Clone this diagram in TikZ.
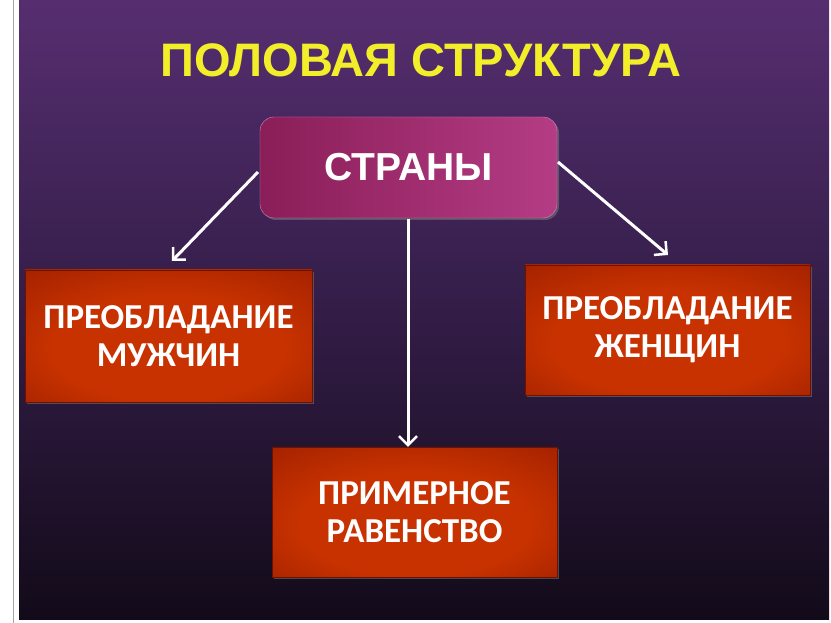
\documentclass[tikz,border=0pt]{standalone}
\usepackage{fontspec}
\setmainfont{Liberation Sans}
\newfontfamily\boxfont{Carlito}
\usetikzlibrary{arrows.meta,shadows}
\definecolor{bgtop}{HTML}{7A3E98}
\definecolor{bgmid}{HTML}{3A2150}
\definecolor{redc}{HTML}{C83200}
\definecolor{rede}{HTML}{8A1600}
\definecolor{magl}{HTML}{8A1E58}
\definecolor{magr}{HTML}{B43C84}
\definecolor{titley}{HTML}{F2EE2A}
\pgfdeclareverticalshading{bgshade}{100bp}{color(0bp)=(black); color(8bp)=(black); color(20bp)=(black!80!bgmid); color(55bp)=(bgmid); color(100bp)=(bgtop)}
\pgfdeclareradialshading{redshade}{\pgfpoint{0bp}{-8bp}}{color(0bp)=(redc); color(20bp)=(redc); color(50bp)=(rede)}
\tikzset{
  redbox/.style={draw=rede!80!black, shading=redshade, minimum width=#1, inner sep=0pt,
     align=center, font=\boxfont\bfseries\fontsize{35}{38}\selectfont, text=white,
     drop shadow={shadow xshift=2pt, shadow yshift=-2pt, opacity=.5}},
  arr/.style={draw=white, line width=3pt, -{Straight Barb[length=9pt,width=18pt,line width=2.5pt]}}
}
\begin{document}
\begin{tikzpicture}[x=1pt,y=-1pt]
\useasboundingbox (0,0) rectangle (831,623);
\fill[white] (0,0) rectangle (831,623);
\shade[shading=bgshade] (19,0) rectangle (829,619);
\draw[gray!70, line width=0.8pt] (13,0) -- (13,623);
\node[font=\bfseries\fontsize{47}{50}\selectfont, text=titley] (title) at (421,60) {ПОЛОВАЯ СТРУКТУРА};
\node[draw=magr!60!white, rounded corners=14pt, left color=magl, right color=magr,
      minimum width=297pt, minimum height=101pt, font=\bfseries\fontsize{39}{42}\selectfont, text=white,
      drop shadow={shadow xshift=2pt, shadow yshift=-2pt, opacity=.5}] (c) at (408.5,167.5) {СТРАНЫ};
\node[redbox=287pt, minimum height=132pt] (m) at (168.5,336) {ПРЕОБЛАДАНИЕ\\МУЖЧИН};
\node[redbox=285pt, minimum height=130pt] (w) at (667.5,330) {ПРЕОБЛАДАНИЕ\\ЖЕНЩИН};
\node[redbox=285pt, minimum height=130pt] (e) at (414.5,512) {ПРИМЕРНОЕ\\РАВЕНСТВО};
\coordinate (cl) at (258,172);
\coordinate (cr) at (558,162);
\coordinate (cb) at (408,219);
\coordinate (ml) at (172,261);
\coordinate (wr) at (668,255);
\draw[arr] (cl) -- (ml);
\draw[arr] (cr) -- (wr);
\draw[arr] (cb) -- (cb |- e.north);
\end{tikzpicture}
\end{document}
